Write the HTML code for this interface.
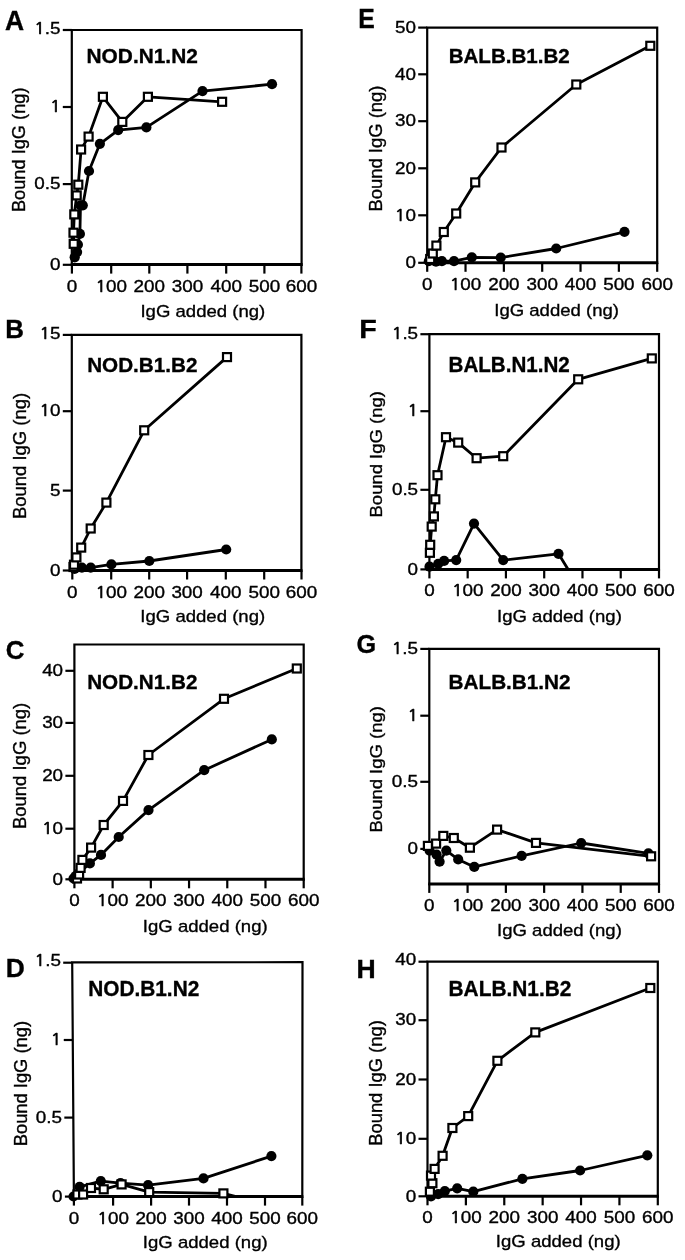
<!DOCTYPE html>
<html><head><meta charset="utf-8"><title>IgG binding</title>
<style>
html,body{margin:0;padding:0;background:#fff;}
svg{display:block;}
text{font-family:"Liberation Sans",Arial,sans-serif;fill:#000;stroke:#000;}
</style></head>
<body>
<svg width="685" height="1260" viewBox="0 0 685 1260">
<rect width="685" height="1260" fill="#fff"/>
<path d="M71.8,264.6 L71.8,30.0 L301.6,30.0 L301.6,264.6" fill="none" stroke="#000" stroke-width="2.2" stroke-linejoin="miter" stroke-linecap="square"/>
<line x1="70.8" y1="264.6" x2="302.6" y2="264.6" stroke="#000" stroke-width="3.0"/>
<line x1="71.90" y1="264.60" x2="71.90" y2="273.60" stroke="#000" stroke-width="2.2"/>
<text font-size="16.4" text-anchor="middle" stroke-width="0.35" transform="translate(71.90,291.60) scale(1.15,1)">0</text>
<line x1="111.20" y1="264.60" x2="111.20" y2="273.60" stroke="#000" stroke-width="2.2"/>
<text font-size="16.4" text-anchor="middle" stroke-width="0.35" transform="translate(111.20,291.60) scale(1.15,1)"><tspan style="font-family:NanumGothic,'Liberation Sans',sans-serif" font-size="15.19" stroke-width="0.7">1</tspan>00</text>
<line x1="149.30" y1="264.60" x2="149.30" y2="273.60" stroke="#000" stroke-width="2.2"/>
<text font-size="16.4" text-anchor="middle" stroke-width="0.35" transform="translate(149.30,291.60) scale(1.15,1)">200</text>
<line x1="187.40" y1="264.60" x2="187.40" y2="273.60" stroke="#000" stroke-width="2.2"/>
<text font-size="16.4" text-anchor="middle" stroke-width="0.35" transform="translate(187.40,291.60) scale(1.15,1)">300</text>
<line x1="226.20" y1="264.60" x2="226.20" y2="273.60" stroke="#000" stroke-width="2.2"/>
<text font-size="16.4" text-anchor="middle" stroke-width="0.35" transform="translate(226.20,291.60) scale(1.15,1)">400</text>
<line x1="264.40" y1="264.60" x2="264.40" y2="273.60" stroke="#000" stroke-width="2.2"/>
<text font-size="16.4" text-anchor="middle" stroke-width="0.35" transform="translate(264.40,291.60) scale(1.15,1)">500</text>
<line x1="301.40" y1="264.60" x2="301.40" y2="273.60" stroke="#000" stroke-width="2.2"/>
<text font-size="16.4" text-anchor="middle" stroke-width="0.35" transform="translate(301.40,291.60) scale(1.15,1)">600</text>
<line x1="62.80" y1="264.80" x2="71.80" y2="264.80" stroke="#000" stroke-width="2.2"/>
<text font-size="16.4" text-anchor="end" stroke-width="0.35" transform="translate(60.50,270.07) scale(1.15,1)">0</text>
<line x1="62.80" y1="184.10" x2="71.80" y2="184.10" stroke="#000" stroke-width="2.2"/>
<text font-size="16.4" text-anchor="end" stroke-width="0.35" transform="translate(60.50,189.37) scale(1.15,1)">0.5</text>
<line x1="62.80" y1="107.00" x2="71.80" y2="107.00" stroke="#000" stroke-width="2.2"/>
<text font-size="16.4" text-anchor="end" stroke-width="0.35" transform="translate(60.50,112.27) scale(1.15,1)"><tspan style="font-family:NanumGothic,'Liberation Sans',sans-serif" font-size="15.19" stroke-width="0.7">1</tspan></text>
<line x1="62.80" y1="30.00" x2="71.80" y2="30.00" stroke="#000" stroke-width="2.2"/>
<text font-size="16.4" text-anchor="end" stroke-width="0.35" transform="translate(60.50,34.07) scale(1.15,1)"><tspan style="font-family:NanumGothic,'Liberation Sans',sans-serif" font-size="15.19" stroke-width="0.7">1</tspan>.5</text>
<text font-size="100" font-weight="normal" stroke-width="1.946" transform="matrix(0.1856,0.0000,0.0000,0.1743,140.4300,316.8390)">IgG added (ng)</text>
<text font-size="100" font-weight="normal" stroke-width="1.901" transform="matrix(0.0000,-0.1822,0.1861,0.0000,24.6920,212.0578)">Bound IgG (ng)</text>
<text font-size="100" font-weight="bold" stroke-width="1.690" transform="matrix(0.2086,0.0000,0.0000,0.2056,86.5441,63.4944)">NOD.N1.N2</text>
<text font-size="100" font-weight="bold" stroke-width="1.308" transform="matrix(0.2642,0.0000,0.0000,0.2710,4.9396,30.1000)">A</text>
<clipPath id="clipA"><rect x="71.8" y="10.0" width="249.8" height="254.60000000000002"/></clipPath>
<polyline points="74.7,257.3 77.1,252.1 77.9,244.6 79.9,233.9 80.5,205.3 82.8,205.3 89.0,171.0 99.9,143.8 118.2,130.1 146.4,127.4 202.5,91.1 272,84.2" fill="none" stroke="#000" stroke-width="2.8" stroke-linejoin="round" clip-path="url(#clipA)"/>
<circle cx="74.7" cy="257.3" r="5.1" fill="#000"/>
<circle cx="77.1" cy="252.1" r="5.1" fill="#000"/>
<circle cx="77.9" cy="244.6" r="5.1" fill="#000"/>
<circle cx="79.9" cy="233.9" r="5.1" fill="#000"/>
<circle cx="80.5" cy="205.3" r="5.1" fill="#000"/>
<circle cx="82.8" cy="205.3" r="5.1" fill="#000"/>
<circle cx="89.0" cy="171.0" r="5.1" fill="#000"/>
<circle cx="99.9" cy="143.8" r="5.1" fill="#000"/>
<circle cx="118.2" cy="130.1" r="5.1" fill="#000"/>
<circle cx="146.4" cy="127.4" r="5.1" fill="#000"/>
<circle cx="202.5" cy="91.1" r="5.1" fill="#000"/>
<circle cx="272" cy="84.2" r="5.1" fill="#000"/>
<polyline points="73.7,243.8 73.5,232.7 74.3,214.4 76.7,195.4 78.3,184.7 81.1,149.5 88.6,136.6 102.9,96.8 122.3,121.9 147.9,96.8 222.1,101.8" fill="none" stroke="#000" stroke-width="2.8" stroke-linejoin="round" clip-path="url(#clipA)"/>
<rect x="69.70" y="239.80" width="8.0" height="8.0" fill="#fff" stroke="#000" stroke-width="2.2"/>
<rect x="69.50" y="228.70" width="8.0" height="8.0" fill="#fff" stroke="#000" stroke-width="2.2"/>
<rect x="70.30" y="210.40" width="8.0" height="8.0" fill="#fff" stroke="#000" stroke-width="2.2"/>
<rect x="72.70" y="191.40" width="8.0" height="8.0" fill="#fff" stroke="#000" stroke-width="2.2"/>
<rect x="74.30" y="180.70" width="8.0" height="8.0" fill="#fff" stroke="#000" stroke-width="2.2"/>
<rect x="77.10" y="145.50" width="8.0" height="8.0" fill="#fff" stroke="#000" stroke-width="2.2"/>
<rect x="84.60" y="132.60" width="8.0" height="8.0" fill="#fff" stroke="#000" stroke-width="2.2"/>
<rect x="98.90" y="92.80" width="8.0" height="8.0" fill="#fff" stroke="#000" stroke-width="2.2"/>
<rect x="118.30" y="117.90" width="8.0" height="8.0" fill="#fff" stroke="#000" stroke-width="2.2"/>
<rect x="143.90" y="92.80" width="8.0" height="8.0" fill="#fff" stroke="#000" stroke-width="2.2"/>
<rect x="218.10" y="97.80" width="8.0" height="8.0" fill="#fff" stroke="#000" stroke-width="2.2"/>
<path d="M71.8,570.5 L71.8,334.9 L301.4,334.9 L301.4,570.5" fill="none" stroke="#000" stroke-width="2.2" stroke-linejoin="miter" stroke-linecap="square"/>
<line x1="70.8" y1="570.5" x2="302.4" y2="570.5" stroke="#000" stroke-width="3.0"/>
<line x1="72.30" y1="570.50" x2="72.30" y2="579.50" stroke="#000" stroke-width="2.2"/>
<text font-size="16.4" text-anchor="middle" stroke-width="0.35" transform="translate(72.30,597.50) scale(1.15,1)">0</text>
<line x1="111.20" y1="570.50" x2="111.20" y2="579.50" stroke="#000" stroke-width="2.2"/>
<text font-size="16.4" text-anchor="middle" stroke-width="0.35" transform="translate(111.20,597.50) scale(1.15,1)"><tspan style="font-family:NanumGothic,'Liberation Sans',sans-serif" font-size="15.19" stroke-width="0.7">1</tspan>00</text>
<line x1="149.20" y1="570.50" x2="149.20" y2="579.50" stroke="#000" stroke-width="2.2"/>
<text font-size="16.4" text-anchor="middle" stroke-width="0.35" transform="translate(149.20,597.50) scale(1.15,1)">200</text>
<line x1="187.10" y1="570.50" x2="187.10" y2="579.50" stroke="#000" stroke-width="2.2"/>
<text font-size="16.4" text-anchor="middle" stroke-width="0.35" transform="translate(187.10,597.50) scale(1.15,1)">300</text>
<line x1="225.80" y1="570.50" x2="225.80" y2="579.50" stroke="#000" stroke-width="2.2"/>
<text font-size="16.4" text-anchor="middle" stroke-width="0.35" transform="translate(225.80,597.50) scale(1.15,1)">400</text>
<line x1="264.20" y1="570.50" x2="264.20" y2="579.50" stroke="#000" stroke-width="2.2"/>
<text font-size="16.4" text-anchor="middle" stroke-width="0.35" transform="translate(264.20,597.50) scale(1.15,1)">500</text>
<line x1="301.50" y1="570.50" x2="301.50" y2="579.50" stroke="#000" stroke-width="2.2"/>
<text font-size="16.4" text-anchor="middle" stroke-width="0.35" transform="translate(301.50,597.50) scale(1.15,1)">600</text>
<line x1="62.80" y1="570.50" x2="71.80" y2="570.50" stroke="#000" stroke-width="2.2"/>
<text font-size="16.4" text-anchor="end" stroke-width="0.35" transform="translate(60.50,575.77) scale(1.15,1)">0</text>
<line x1="62.80" y1="490.60" x2="71.80" y2="490.60" stroke="#000" stroke-width="2.2"/>
<text font-size="16.4" text-anchor="end" stroke-width="0.35" transform="translate(60.50,495.87) scale(1.15,1)">5</text>
<line x1="62.80" y1="411.20" x2="71.80" y2="411.20" stroke="#000" stroke-width="2.2"/>
<text font-size="16.4" text-anchor="end" stroke-width="0.35" transform="translate(60.50,416.47) scale(1.15,1)"><tspan style="font-family:NanumGothic,'Liberation Sans',sans-serif" font-size="15.19" stroke-width="0.7">1</tspan>0</text>
<line x1="62.80" y1="334.90" x2="71.80" y2="334.90" stroke="#000" stroke-width="2.2"/>
<text font-size="16.4" text-anchor="end" stroke-width="0.35" transform="translate(60.50,338.67) scale(1.15,1)"><tspan style="font-family:NanumGothic,'Liberation Sans',sans-serif" font-size="15.19" stroke-width="0.7">1</tspan>5</text>
<text font-size="100" font-weight="normal" stroke-width="1.946" transform="matrix(0.1856,0.0000,0.0000,0.1743,140.3300,622.1390)">IgG added (ng)</text>
<text font-size="100" font-weight="normal" stroke-width="1.860" transform="matrix(0.0000,-0.1849,0.1914,0.0000,25.7797,519.0793)">Bound IgG (ng)</text>
<text font-size="100" font-weight="bold" stroke-width="1.709" transform="matrix(0.2067,0.0000,0.0000,0.2028,87.1565,372.3972)">NOD.B1.B2</text>
<text font-size="100" font-weight="bold" stroke-width="1.366" transform="matrix(0.2590,0.0000,0.0000,0.2536,5.3164,338.4000)">B</text>
<clipPath id="clipB"><rect x="71.8" y="314.9" width="249.59999999999997" height="255.60000000000002"/></clipPath>
<polyline points="74.6,569 81.9,567.6 90.7,567.6 111.4,564.4 149.3,561 226.2,549.5" fill="none" stroke="#000" stroke-width="2.8" stroke-linejoin="round" clip-path="url(#clipB)"/>
<circle cx="74.6" cy="569" r="5.1" fill="#000"/>
<circle cx="81.9" cy="567.6" r="5.1" fill="#000"/>
<circle cx="90.7" cy="567.6" r="5.1" fill="#000"/>
<circle cx="111.4" cy="564.4" r="5.1" fill="#000"/>
<circle cx="149.3" cy="561" r="5.1" fill="#000"/>
<circle cx="226.2" cy="549.5" r="5.1" fill="#000"/>
<polyline points="73.5,567 74,564.7 76.4,557.4 81.2,547.6 90.7,528.5 106.4,502.6 144.2,430.3 227,357.1" fill="none" stroke="#000" stroke-width="2.8" stroke-linejoin="round" clip-path="url(#clipB)"/>
<rect x="69.50" y="563.00" width="8.0" height="8.0" fill="#fff" stroke="#000" stroke-width="2.2"/>
<rect x="70.00" y="560.70" width="8.0" height="8.0" fill="#fff" stroke="#000" stroke-width="2.2"/>
<rect x="72.40" y="553.40" width="8.0" height="8.0" fill="#fff" stroke="#000" stroke-width="2.2"/>
<rect x="77.20" y="543.60" width="8.0" height="8.0" fill="#fff" stroke="#000" stroke-width="2.2"/>
<rect x="86.70" y="524.50" width="8.0" height="8.0" fill="#fff" stroke="#000" stroke-width="2.2"/>
<rect x="102.40" y="498.60" width="8.0" height="8.0" fill="#fff" stroke="#000" stroke-width="2.2"/>
<rect x="140.20" y="426.30" width="8.0" height="8.0" fill="#fff" stroke="#000" stroke-width="2.2"/>
<rect x="223.00" y="353.10" width="8.0" height="8.0" fill="#fff" stroke="#000" stroke-width="2.2"/>
<path d="M74.4,879.3 L74.4,644.5 L303.7,644.5 L303.7,879.3" fill="none" stroke="#000" stroke-width="2.2" stroke-linejoin="miter" stroke-linecap="square"/>
<line x1="73.4" y1="879.3" x2="304.7" y2="879.3" stroke="#000" stroke-width="3.0"/>
<line x1="74.40" y1="879.30" x2="74.40" y2="888.30" stroke="#000" stroke-width="2.2"/>
<text font-size="16.4" text-anchor="middle" stroke-width="0.35" transform="translate(74.40,906.30) scale(1.15,1)">0</text>
<line x1="112.62" y1="879.30" x2="112.62" y2="888.30" stroke="#000" stroke-width="2.2"/>
<text font-size="16.4" text-anchor="middle" stroke-width="0.35" transform="translate(112.62,906.30) scale(1.15,1)"><tspan style="font-family:NanumGothic,'Liberation Sans',sans-serif" font-size="15.19" stroke-width="0.7">1</tspan>00</text>
<line x1="150.83" y1="879.30" x2="150.83" y2="888.30" stroke="#000" stroke-width="2.2"/>
<text font-size="16.4" text-anchor="middle" stroke-width="0.35" transform="translate(150.83,906.30) scale(1.15,1)">200</text>
<line x1="189.05" y1="879.30" x2="189.05" y2="888.30" stroke="#000" stroke-width="2.2"/>
<text font-size="16.4" text-anchor="middle" stroke-width="0.35" transform="translate(189.05,906.30) scale(1.15,1)">300</text>
<line x1="227.27" y1="879.30" x2="227.27" y2="888.30" stroke="#000" stroke-width="2.2"/>
<text font-size="16.4" text-anchor="middle" stroke-width="0.35" transform="translate(227.27,906.30) scale(1.15,1)">400</text>
<line x1="265.48" y1="879.30" x2="265.48" y2="888.30" stroke="#000" stroke-width="2.2"/>
<text font-size="16.4" text-anchor="middle" stroke-width="0.35" transform="translate(265.48,906.30) scale(1.15,1)">500</text>
<line x1="303.70" y1="879.30" x2="303.70" y2="888.30" stroke="#000" stroke-width="2.2"/>
<text font-size="16.4" text-anchor="middle" stroke-width="0.35" transform="translate(303.70,906.30) scale(1.15,1)">600</text>
<line x1="65.40" y1="879.30" x2="74.40" y2="879.30" stroke="#000" stroke-width="2.2"/>
<text font-size="16.4" text-anchor="end" stroke-width="0.35" transform="translate(63.10,884.57) scale(1.15,1)">0</text>
<line x1="65.40" y1="828.70" x2="74.40" y2="828.70" stroke="#000" stroke-width="2.2"/>
<text font-size="16.4" text-anchor="end" stroke-width="0.35" transform="translate(63.10,833.97) scale(1.15,1)"><tspan style="font-family:NanumGothic,'Liberation Sans',sans-serif" font-size="15.19" stroke-width="0.7">1</tspan>0</text>
<line x1="65.40" y1="775.80" x2="74.40" y2="775.80" stroke="#000" stroke-width="2.2"/>
<text font-size="16.4" text-anchor="end" stroke-width="0.35" transform="translate(63.10,781.07) scale(1.15,1)">20</text>
<line x1="65.40" y1="722.90" x2="74.40" y2="722.90" stroke="#000" stroke-width="2.2"/>
<text font-size="16.4" text-anchor="end" stroke-width="0.35" transform="translate(63.10,728.17) scale(1.15,1)">30</text>
<line x1="65.40" y1="670.80" x2="74.40" y2="670.80" stroke="#000" stroke-width="2.2"/>
<text font-size="16.4" text-anchor="end" stroke-width="0.35" transform="translate(63.10,676.07) scale(1.15,1)">40</text>
<text font-size="100" font-weight="normal" stroke-width="1.946" transform="matrix(0.1856,0.0000,0.0000,0.1743,142.8300,931.6390)">IgG added (ng)</text>
<text font-size="100" font-weight="normal" stroke-width="1.920" transform="matrix(0.0000,-0.1849,0.1797,0.0000,26.0267,829.0793)">Bound IgG (ng)</text>
<text font-size="100" font-weight="bold" stroke-width="1.709" transform="matrix(0.2067,0.0000,0.0000,0.2028,87.1565,689.3972)">NOD.N1.B2</text>
<text font-size="100" font-weight="bold" stroke-width="1.354" transform="matrix(0.2580,0.0000,0.0000,0.2592,5.6679,659.1408)">C</text>
<clipPath id="clipC"><rect x="74.4" y="624.5" width="249.29999999999998" height="254.79999999999995"/></clipPath>
<polyline points="73.5,878.5 75.5,876 89.9,863.4 101,854.9 118.7,837 148.5,810.1 204.2,770.2 271.8,739.4" fill="none" stroke="#000" stroke-width="2.8" stroke-linejoin="round" clip-path="url(#clipC)"/>
<circle cx="73.5" cy="878.5" r="5.1" fill="#000"/>
<circle cx="75.5" cy="876" r="5.1" fill="#000"/>
<circle cx="89.9" cy="863.4" r="5.1" fill="#000"/>
<circle cx="101" cy="854.9" r="5.1" fill="#000"/>
<circle cx="118.7" cy="837" r="5.1" fill="#000"/>
<circle cx="148.5" cy="810.1" r="5.1" fill="#000"/>
<circle cx="204.2" cy="770.2" r="5.1" fill="#000"/>
<circle cx="271.8" cy="739.4" r="5.1" fill="#000"/>
<polyline points="77,878.5 79.1,874.5 80.6,867.9 82.4,859.9 91.1,847.6 103.7,825 123,800.9 148.4,755 224,698.8 296.8,668.5" fill="none" stroke="#000" stroke-width="2.8" stroke-linejoin="round" clip-path="url(#clipC)"/>
<rect x="73.00" y="874.50" width="8.0" height="8.0" fill="#fff" stroke="#000" stroke-width="2.2"/>
<rect x="75.10" y="870.50" width="8.0" height="8.0" fill="#fff" stroke="#000" stroke-width="2.2"/>
<rect x="76.60" y="863.90" width="8.0" height="8.0" fill="#fff" stroke="#000" stroke-width="2.2"/>
<rect x="78.40" y="855.90" width="8.0" height="8.0" fill="#fff" stroke="#000" stroke-width="2.2"/>
<rect x="87.10" y="843.60" width="8.0" height="8.0" fill="#fff" stroke="#000" stroke-width="2.2"/>
<rect x="99.70" y="821.00" width="8.0" height="8.0" fill="#fff" stroke="#000" stroke-width="2.2"/>
<rect x="119.00" y="796.90" width="8.0" height="8.0" fill="#fff" stroke="#000" stroke-width="2.2"/>
<rect x="144.40" y="751.00" width="8.0" height="8.0" fill="#fff" stroke="#000" stroke-width="2.2"/>
<rect x="220.00" y="694.80" width="8.0" height="8.0" fill="#fff" stroke="#000" stroke-width="2.2"/>
<rect x="292.80" y="664.50" width="8.0" height="8.0" fill="#fff" stroke="#000" stroke-width="2.2"/>
<path d="M73.9,1196.6 L72.2,962.4 L302.5,962.2 L302.3,1196.6" fill="none" stroke="#000" stroke-width="2.2" stroke-linejoin="miter" stroke-linecap="square"/>
<line x1="72.9" y1="1196.6" x2="303.3" y2="1196.6" stroke="#000" stroke-width="3.0"/>
<line x1="73.90" y1="1196.60" x2="73.90" y2="1205.60" stroke="#000" stroke-width="2.2"/>
<text font-size="16.4" text-anchor="middle" stroke-width="0.35" transform="translate(73.90,1223.60) scale(1.15,1)">0</text>
<line x1="113.10" y1="1196.60" x2="113.10" y2="1205.60" stroke="#000" stroke-width="2.2"/>
<text font-size="16.4" text-anchor="middle" stroke-width="0.35" transform="translate(113.10,1223.60) scale(1.15,1)"><tspan style="font-family:NanumGothic,'Liberation Sans',sans-serif" font-size="15.19" stroke-width="0.7">1</tspan>00</text>
<line x1="151.10" y1="1196.60" x2="151.10" y2="1205.60" stroke="#000" stroke-width="2.2"/>
<text font-size="16.4" text-anchor="middle" stroke-width="0.35" transform="translate(151.10,1223.60) scale(1.15,1)">200</text>
<line x1="189.00" y1="1196.60" x2="189.00" y2="1205.60" stroke="#000" stroke-width="2.2"/>
<text font-size="16.4" text-anchor="middle" stroke-width="0.35" transform="translate(189.00,1223.60) scale(1.15,1)">300</text>
<line x1="227.00" y1="1196.60" x2="227.00" y2="1205.60" stroke="#000" stroke-width="2.2"/>
<text font-size="16.4" text-anchor="middle" stroke-width="0.35" transform="translate(227.00,1223.60) scale(1.15,1)">400</text>
<line x1="265.00" y1="1196.60" x2="265.00" y2="1205.60" stroke="#000" stroke-width="2.2"/>
<text font-size="16.4" text-anchor="middle" stroke-width="0.35" transform="translate(265.00,1223.60) scale(1.15,1)">500</text>
<line x1="302.30" y1="1196.60" x2="302.30" y2="1205.60" stroke="#000" stroke-width="2.2"/>
<text font-size="16.4" text-anchor="middle" stroke-width="0.35" transform="translate(302.30,1223.60) scale(1.15,1)">600</text>
<line x1="64.90" y1="1196.60" x2="73.90" y2="1196.60" stroke="#000" stroke-width="2.2"/>
<text font-size="16.4" text-anchor="end" stroke-width="0.35" transform="translate(62.60,1201.87) scale(1.15,1)">0</text>
<line x1="64.33" y1="1117.60" x2="73.33" y2="1117.60" stroke="#000" stroke-width="2.2"/>
<text font-size="16.4" text-anchor="end" stroke-width="0.35" transform="translate(62.03,1122.87) scale(1.15,1)">0.5</text>
<line x1="63.76" y1="1040.00" x2="72.76" y2="1040.00" stroke="#000" stroke-width="2.2"/>
<text font-size="16.4" text-anchor="end" stroke-width="0.35" transform="translate(61.46,1045.27) scale(1.15,1)"><tspan style="font-family:NanumGothic,'Liberation Sans',sans-serif" font-size="15.19" stroke-width="0.7">1</tspan></text>
<line x1="63.20" y1="962.70" x2="72.20" y2="962.70" stroke="#000" stroke-width="2.2"/>
<text font-size="16.4" text-anchor="end" stroke-width="0.35" transform="translate(60.90,965.97) scale(1.15,1)"><tspan style="font-family:NanumGothic,'Liberation Sans',sans-serif" font-size="15.19" stroke-width="0.7">1</tspan>.5</text>
<text font-size="100" font-weight="normal" stroke-width="1.946" transform="matrix(0.1856,0.0000,0.0000,0.1743,142.8300,1248.1390)">IgG added (ng)</text>
<text font-size="100" font-weight="normal" stroke-width="1.895" transform="matrix(0.0000,-0.1833,0.1861,0.0000,26.5920,1146.2662)">Bound IgG (ng)</text>
<text font-size="100" font-weight="bold" stroke-width="1.663" transform="matrix(0.2082,0.0000,0.0000,0.2127,88.2466,996.3873)">NOD.B1.N2</text>
<text font-size="100" font-weight="bold" stroke-width="1.335" transform="matrix(0.2634,0.0000,0.0000,0.2609,5.6878,976.9000)">D</text>
<clipPath id="clipD"><rect x="72.2" y="942.7" width="250.60000000000002" height="253.89999999999986"/></clipPath>
<polyline points="73.5,1196.5 79.6,1186.8 100.8,1181.2 120.5,1183.2 148.1,1185.2 203.5,1178.4 271.4,1156.1" fill="none" stroke="#000" stroke-width="2.8" stroke-linejoin="round" clip-path="url(#clipD)"/>
<circle cx="73.5" cy="1196.5" r="5.1" fill="#000"/>
<circle cx="79.6" cy="1186.8" r="5.1" fill="#000"/>
<circle cx="100.8" cy="1181.2" r="5.1" fill="#000"/>
<circle cx="120.5" cy="1183.2" r="5.1" fill="#000"/>
<circle cx="148.1" cy="1185.2" r="5.1" fill="#000"/>
<circle cx="203.5" cy="1178.4" r="5.1" fill="#000"/>
<circle cx="271.4" cy="1156.1" r="5.1" fill="#000"/>
<polyline points="77.4,1194.5 83.1,1194.5 91,1188 103.7,1189.3 121.6,1184.4 149.2,1192.1 223.4,1193.4 240,1197.5" fill="none" stroke="#000" stroke-width="2.8" stroke-linejoin="round" clip-path="url(#clipD)"/>
<rect x="73.40" y="1190.50" width="8.0" height="8.0" fill="#fff" stroke="#000" stroke-width="2.2"/>
<rect x="79.10" y="1190.50" width="8.0" height="8.0" fill="#fff" stroke="#000" stroke-width="2.2"/>
<rect x="87.00" y="1184.00" width="8.0" height="8.0" fill="#fff" stroke="#000" stroke-width="2.2"/>
<rect x="99.70" y="1185.30" width="8.0" height="8.0" fill="#fff" stroke="#000" stroke-width="2.2"/>
<rect x="117.60" y="1180.40" width="8.0" height="8.0" fill="#fff" stroke="#000" stroke-width="2.2"/>
<rect x="145.20" y="1188.10" width="8.0" height="8.0" fill="#fff" stroke="#000" stroke-width="2.2"/>
<rect x="219.40" y="1189.40" width="8.0" height="8.0" fill="#fff" stroke="#000" stroke-width="2.2"/>
<path d="M427.2,262.8 L427.2,27.6 L657.2,27.6 L657.2,262.8" fill="none" stroke="#000" stroke-width="2.2" stroke-linejoin="miter" stroke-linecap="square"/>
<line x1="426.2" y1="262.8" x2="658.2" y2="262.8" stroke="#000" stroke-width="3.0"/>
<line x1="427.20" y1="262.80" x2="427.20" y2="271.80" stroke="#000" stroke-width="2.2"/>
<text font-size="16.4" text-anchor="middle" stroke-width="0.35" transform="translate(427.20,289.80) scale(1.15,1)">0</text>
<line x1="465.53" y1="262.80" x2="465.53" y2="271.80" stroke="#000" stroke-width="2.2"/>
<text font-size="16.4" text-anchor="middle" stroke-width="0.35" transform="translate(465.53,289.80) scale(1.15,1)"><tspan style="font-family:NanumGothic,'Liberation Sans',sans-serif" font-size="15.19" stroke-width="0.7">1</tspan>00</text>
<line x1="503.87" y1="262.80" x2="503.87" y2="271.80" stroke="#000" stroke-width="2.2"/>
<text font-size="16.4" text-anchor="middle" stroke-width="0.35" transform="translate(503.87,289.80) scale(1.15,1)">200</text>
<line x1="542.20" y1="262.80" x2="542.20" y2="271.80" stroke="#000" stroke-width="2.2"/>
<text font-size="16.4" text-anchor="middle" stroke-width="0.35" transform="translate(542.20,289.80) scale(1.15,1)">300</text>
<line x1="580.53" y1="262.80" x2="580.53" y2="271.80" stroke="#000" stroke-width="2.2"/>
<text font-size="16.4" text-anchor="middle" stroke-width="0.35" transform="translate(580.53,289.80) scale(1.15,1)">400</text>
<line x1="618.87" y1="262.80" x2="618.87" y2="271.80" stroke="#000" stroke-width="2.2"/>
<text font-size="16.4" text-anchor="middle" stroke-width="0.35" transform="translate(618.87,289.80) scale(1.15,1)">500</text>
<line x1="657.20" y1="262.80" x2="657.20" y2="271.80" stroke="#000" stroke-width="2.2"/>
<text font-size="16.4" text-anchor="middle" stroke-width="0.35" transform="translate(657.20,289.80) scale(1.15,1)">600</text>
<line x1="418.20" y1="262.80" x2="427.20" y2="262.80" stroke="#000" stroke-width="2.2"/>
<text font-size="16.4" text-anchor="end" stroke-width="0.35" transform="translate(415.90,268.07) scale(1.15,1)">0</text>
<line x1="418.20" y1="215.30" x2="427.20" y2="215.30" stroke="#000" stroke-width="2.2"/>
<text font-size="16.4" text-anchor="end" stroke-width="0.35" transform="translate(415.90,220.57) scale(1.15,1)"><tspan style="font-family:NanumGothic,'Liberation Sans',sans-serif" font-size="15.19" stroke-width="0.7">1</tspan>0</text>
<line x1="418.20" y1="168.30" x2="427.20" y2="168.30" stroke="#000" stroke-width="2.2"/>
<text font-size="16.4" text-anchor="end" stroke-width="0.35" transform="translate(415.90,173.57) scale(1.15,1)">20</text>
<line x1="418.20" y1="121.20" x2="427.20" y2="121.20" stroke="#000" stroke-width="2.2"/>
<text font-size="16.4" text-anchor="end" stroke-width="0.35" transform="translate(415.90,126.47) scale(1.15,1)">30</text>
<line x1="418.20" y1="74.30" x2="427.20" y2="74.30" stroke="#000" stroke-width="2.2"/>
<text font-size="16.4" text-anchor="end" stroke-width="0.35" transform="translate(415.90,79.57) scale(1.15,1)">40</text>
<line x1="418.20" y1="27.60" x2="427.20" y2="27.60" stroke="#000" stroke-width="2.2"/>
<text font-size="16.4" text-anchor="end" stroke-width="0.35" transform="translate(415.90,32.87) scale(1.15,1)">50</text>
<text font-size="100" font-weight="normal" stroke-width="1.946" transform="matrix(0.1856,0.0000,0.0000,0.1743,494.2300,315.5390)">IgG added (ng)</text>
<text font-size="100" font-weight="normal" stroke-width="1.930" transform="matrix(0.0000,-0.1842,0.1786,0.0000,381.7492,211.4733)">Bound IgG (ng)</text>
<text font-size="100" font-weight="bold" stroke-width="1.726" transform="matrix(0.2057,0.0000,0.0000,0.2000,448.6629,62.8000)">BALB.B1.B2</text>
<text font-size="100" font-weight="bold" stroke-width="1.358" transform="matrix(0.2478,0.0000,0.0000,0.2681,358.2894,27.8000)">E</text>
<clipPath id="clipE"><rect x="427.2" y="7.600000000000001" width="250.00000000000006" height="255.20000000000002"/></clipPath>
<polyline points="428.8,261.2 436,261.7 441.9,261.2 454,261.2 471.8,257.3 500.7,257.6 556.2,248.5 624.5,231.8" fill="none" stroke="#000" stroke-width="2.8" stroke-linejoin="round" clip-path="url(#clipE)"/>
<circle cx="428.8" cy="261.2" r="5.1" fill="#000"/>
<circle cx="436" cy="261.7" r="5.1" fill="#000"/>
<circle cx="441.9" cy="261.2" r="5.1" fill="#000"/>
<circle cx="454" cy="261.2" r="5.1" fill="#000"/>
<circle cx="471.8" cy="257.3" r="5.1" fill="#000"/>
<circle cx="500.7" cy="257.6" r="5.1" fill="#000"/>
<circle cx="556.2" cy="248.5" r="5.1" fill="#000"/>
<circle cx="624.5" cy="231.8" r="5.1" fill="#000"/>
<polyline points="430.2,259 432.8,253.5 436.4,245.6 443.8,232 456.2,213.5 475.2,182.4 501.5,147.5 576.3,84.5 650.3,45.8" fill="none" stroke="#000" stroke-width="2.8" stroke-linejoin="round" clip-path="url(#clipE)"/>
<rect x="426.20" y="255.00" width="8.0" height="8.0" fill="#fff" stroke="#000" stroke-width="2.2"/>
<rect x="428.80" y="249.50" width="8.0" height="8.0" fill="#fff" stroke="#000" stroke-width="2.2"/>
<rect x="432.40" y="241.60" width="8.0" height="8.0" fill="#fff" stroke="#000" stroke-width="2.2"/>
<rect x="439.80" y="228.00" width="8.0" height="8.0" fill="#fff" stroke="#000" stroke-width="2.2"/>
<rect x="452.20" y="209.50" width="8.0" height="8.0" fill="#fff" stroke="#000" stroke-width="2.2"/>
<rect x="471.20" y="178.40" width="8.0" height="8.0" fill="#fff" stroke="#000" stroke-width="2.2"/>
<rect x="497.50" y="143.50" width="8.0" height="8.0" fill="#fff" stroke="#000" stroke-width="2.2"/>
<rect x="572.30" y="80.50" width="8.0" height="8.0" fill="#fff" stroke="#000" stroke-width="2.2"/>
<rect x="646.30" y="41.80" width="8.0" height="8.0" fill="#fff" stroke="#000" stroke-width="2.2"/>
<path d="M429.4,569.4 L429.4,334.2 L659.0,334.2 L659.0,569.4" fill="none" stroke="#000" stroke-width="2.2" stroke-linejoin="miter" stroke-linecap="square"/>
<line x1="428.4" y1="569.4" x2="660.0" y2="569.4" stroke="#000" stroke-width="3.0"/>
<line x1="429.40" y1="569.40" x2="429.40" y2="578.40" stroke="#000" stroke-width="2.2"/>
<text font-size="16.4" text-anchor="middle" stroke-width="0.35" transform="translate(429.40,596.40) scale(1.15,1)">0</text>
<line x1="467.67" y1="569.40" x2="467.67" y2="578.40" stroke="#000" stroke-width="2.2"/>
<text font-size="16.4" text-anchor="middle" stroke-width="0.35" transform="translate(467.67,596.40) scale(1.15,1)"><tspan style="font-family:NanumGothic,'Liberation Sans',sans-serif" font-size="15.19" stroke-width="0.7">1</tspan>00</text>
<line x1="505.93" y1="569.40" x2="505.93" y2="578.40" stroke="#000" stroke-width="2.2"/>
<text font-size="16.4" text-anchor="middle" stroke-width="0.35" transform="translate(505.93,596.40) scale(1.15,1)">200</text>
<line x1="544.20" y1="569.40" x2="544.20" y2="578.40" stroke="#000" stroke-width="2.2"/>
<text font-size="16.4" text-anchor="middle" stroke-width="0.35" transform="translate(544.20,596.40) scale(1.15,1)">300</text>
<line x1="582.47" y1="569.40" x2="582.47" y2="578.40" stroke="#000" stroke-width="2.2"/>
<text font-size="16.4" text-anchor="middle" stroke-width="0.35" transform="translate(582.47,596.40) scale(1.15,1)">400</text>
<line x1="620.73" y1="569.40" x2="620.73" y2="578.40" stroke="#000" stroke-width="2.2"/>
<text font-size="16.4" text-anchor="middle" stroke-width="0.35" transform="translate(620.73,596.40) scale(1.15,1)">500</text>
<line x1="659.00" y1="569.40" x2="659.00" y2="578.40" stroke="#000" stroke-width="2.2"/>
<text font-size="16.4" text-anchor="middle" stroke-width="0.35" transform="translate(659.00,596.40) scale(1.15,1)">600</text>
<line x1="420.40" y1="569.40" x2="429.40" y2="569.40" stroke="#000" stroke-width="2.2"/>
<text font-size="16.4" text-anchor="end" stroke-width="0.35" transform="translate(418.10,574.67) scale(1.15,1)">0</text>
<line x1="420.40" y1="489.80" x2="429.40" y2="489.80" stroke="#000" stroke-width="2.2"/>
<text font-size="16.4" text-anchor="end" stroke-width="0.35" transform="translate(418.10,495.07) scale(1.15,1)">0.5</text>
<line x1="420.40" y1="411.20" x2="429.40" y2="411.20" stroke="#000" stroke-width="2.2"/>
<text font-size="16.4" text-anchor="end" stroke-width="0.35" transform="translate(418.10,416.47) scale(1.15,1)"><tspan style="font-family:NanumGothic,'Liberation Sans',sans-serif" font-size="15.19" stroke-width="0.7">1</tspan></text>
<line x1="420.40" y1="334.20" x2="429.40" y2="334.20" stroke="#000" stroke-width="2.2"/>
<text font-size="16.4" text-anchor="end" stroke-width="0.35" transform="translate(418.10,339.47) scale(1.15,1)"><tspan style="font-family:NanumGothic,'Liberation Sans',sans-serif" font-size="15.19" stroke-width="0.7">1</tspan>.5</text>
<text font-size="100" font-weight="normal" stroke-width="1.946" transform="matrix(0.1856,0.0000,0.0000,0.1743,497.0300,621.9390)">IgG added (ng)</text>
<text font-size="100" font-weight="normal" stroke-width="1.955" transform="matrix(0.0000,-0.1851,0.1733,0.0000,382.3615,517.4805)">Bound IgG (ng)</text>
<text font-size="100" font-weight="bold" stroke-width="1.672" transform="matrix(0.2059,0.0000,0.0000,0.2129,448.5618,371.9000)">BALB.N1.N2</text>
<text font-size="100" font-weight="bold" stroke-width="1.267" transform="matrix(0.2863,0.0000,0.0000,0.2667,359.2392,338.0000)">F</text>
<clipPath id="clipF"><rect x="429.4" y="314.2" width="249.60000000000002" height="255.2"/></clipPath>
<polyline points="429.5,566.7 438.2,563.8 444.1,560.9 456.2,560.1 474,523.6 503.2,560.1 558.5,553.8 568,569.3" fill="none" stroke="#000" stroke-width="2.8" stroke-linejoin="round" clip-path="url(#clipF)"/>
<circle cx="429.5" cy="566.7" r="5.1" fill="#000"/>
<circle cx="438.2" cy="563.8" r="5.1" fill="#000"/>
<circle cx="444.1" cy="560.9" r="5.1" fill="#000"/>
<circle cx="456.2" cy="560.1" r="5.1" fill="#000"/>
<circle cx="474" cy="523.6" r="5.1" fill="#000"/>
<circle cx="503.2" cy="560.1" r="5.1" fill="#000"/>
<circle cx="558.5" cy="553.8" r="5.1" fill="#000"/>
<polyline points="429.9,552.8 430.2,544.8 431.7,526.6 433.9,516.4 435.3,499.3 437.5,475.2 446,437.2 458.2,442.6 476.6,458.2 503.2,456.2 578.2,379.3 651.8,358.4" fill="none" stroke="#000" stroke-width="2.8" stroke-linejoin="round" clip-path="url(#clipF)"/>
<rect x="425.90" y="548.80" width="8.0" height="8.0" fill="#fff" stroke="#000" stroke-width="2.2"/>
<rect x="426.20" y="540.80" width="8.0" height="8.0" fill="#fff" stroke="#000" stroke-width="2.2"/>
<rect x="427.70" y="522.60" width="8.0" height="8.0" fill="#fff" stroke="#000" stroke-width="2.2"/>
<rect x="429.90" y="512.40" width="8.0" height="8.0" fill="#fff" stroke="#000" stroke-width="2.2"/>
<rect x="431.30" y="495.30" width="8.0" height="8.0" fill="#fff" stroke="#000" stroke-width="2.2"/>
<rect x="433.50" y="471.20" width="8.0" height="8.0" fill="#fff" stroke="#000" stroke-width="2.2"/>
<rect x="442.00" y="433.20" width="8.0" height="8.0" fill="#fff" stroke="#000" stroke-width="2.2"/>
<rect x="454.20" y="438.60" width="8.0" height="8.0" fill="#fff" stroke="#000" stroke-width="2.2"/>
<rect x="472.60" y="454.20" width="8.0" height="8.0" fill="#fff" stroke="#000" stroke-width="2.2"/>
<rect x="499.20" y="452.20" width="8.0" height="8.0" fill="#fff" stroke="#000" stroke-width="2.2"/>
<rect x="574.20" y="375.30" width="8.0" height="8.0" fill="#fff" stroke="#000" stroke-width="2.2"/>
<rect x="647.80" y="354.40" width="8.0" height="8.0" fill="#fff" stroke="#000" stroke-width="2.2"/>
<path d="M429.3,883.9 L429.3,648.9 L659.0,648.9 L659.0,883.9" fill="none" stroke="#000" stroke-width="2.2" stroke-linejoin="miter" stroke-linecap="square"/>
<line x1="428.3" y1="883.9" x2="660.0" y2="883.9" stroke="#000" stroke-width="3.0"/>
<line x1="429.30" y1="883.90" x2="429.30" y2="892.90" stroke="#000" stroke-width="2.2"/>
<text font-size="16.4" text-anchor="middle" stroke-width="0.35" transform="translate(429.30,910.90) scale(1.15,1)">0</text>
<line x1="467.58" y1="883.90" x2="467.58" y2="892.90" stroke="#000" stroke-width="2.2"/>
<text font-size="16.4" text-anchor="middle" stroke-width="0.35" transform="translate(467.58,910.90) scale(1.15,1)"><tspan style="font-family:NanumGothic,'Liberation Sans',sans-serif" font-size="15.19" stroke-width="0.7">1</tspan>00</text>
<line x1="505.87" y1="883.90" x2="505.87" y2="892.90" stroke="#000" stroke-width="2.2"/>
<text font-size="16.4" text-anchor="middle" stroke-width="0.35" transform="translate(505.87,910.90) scale(1.15,1)">200</text>
<line x1="544.15" y1="883.90" x2="544.15" y2="892.90" stroke="#000" stroke-width="2.2"/>
<text font-size="16.4" text-anchor="middle" stroke-width="0.35" transform="translate(544.15,910.90) scale(1.15,1)">300</text>
<line x1="582.43" y1="883.90" x2="582.43" y2="892.90" stroke="#000" stroke-width="2.2"/>
<text font-size="16.4" text-anchor="middle" stroke-width="0.35" transform="translate(582.43,910.90) scale(1.15,1)">400</text>
<line x1="620.72" y1="883.90" x2="620.72" y2="892.90" stroke="#000" stroke-width="2.2"/>
<text font-size="16.4" text-anchor="middle" stroke-width="0.35" transform="translate(620.72,910.90) scale(1.15,1)">500</text>
<line x1="659.00" y1="883.90" x2="659.00" y2="892.90" stroke="#000" stroke-width="2.2"/>
<text font-size="16.4" text-anchor="middle" stroke-width="0.35" transform="translate(659.00,910.90) scale(1.15,1)">600</text>
<line x1="420.30" y1="848.90" x2="429.30" y2="848.90" stroke="#000" stroke-width="2.2"/>
<text font-size="16.4" text-anchor="end" stroke-width="0.35" transform="translate(418.00,854.17) scale(1.15,1)">0</text>
<line x1="420.30" y1="781.80" x2="429.30" y2="781.80" stroke="#000" stroke-width="2.2"/>
<text font-size="16.4" text-anchor="end" stroke-width="0.35" transform="translate(418.00,787.07) scale(1.15,1)">0.5</text>
<line x1="420.30" y1="715.70" x2="429.30" y2="715.70" stroke="#000" stroke-width="2.2"/>
<text font-size="16.4" text-anchor="end" stroke-width="0.35" transform="translate(418.00,720.97) scale(1.15,1)"><tspan style="font-family:NanumGothic,'Liberation Sans',sans-serif" font-size="15.19" stroke-width="0.7">1</tspan></text>
<line x1="420.30" y1="648.90" x2="429.30" y2="648.90" stroke="#000" stroke-width="2.2"/>
<text font-size="16.4" text-anchor="end" stroke-width="0.35" transform="translate(418.00,654.17) scale(1.15,1)"><tspan style="font-family:NanumGothic,'Liberation Sans',sans-serif" font-size="15.19" stroke-width="0.7">1</tspan>.5</text>
<text font-size="100" font-weight="normal" stroke-width="1.946" transform="matrix(0.1856,0.0000,0.0000,0.1743,497.0300,935.5390)">IgG added (ng)</text>
<text font-size="100" font-weight="normal" stroke-width="1.955" transform="matrix(0.0000,-0.1851,0.1733,0.0000,382.3615,832.4805)">Bound IgG (ng)</text>
<text font-size="100" font-weight="bold" stroke-width="1.695" transform="matrix(0.2073,0.0000,0.0000,0.2057,448.5528,688.9000)">BALB.B1.N2</text>
<text font-size="100" font-weight="bold" stroke-width="1.385" transform="matrix(0.2519,0.0000,0.0000,0.2535,356.5926,652.6465)">G</text>
<clipPath id="clipG"><rect x="429.3" y="628.9" width="249.7" height="255.0"/></clipPath>
<polyline points="429.6,850.6 436.6,854.7 439.6,861.7 446.3,850.6 458.2,859.4 474.3,866.9 521.6,855.9 581.2,843 648.4,853.3" fill="none" stroke="#000" stroke-width="2.8" stroke-linejoin="round" clip-path="url(#clipG)"/>
<circle cx="429.6" cy="850.6" r="5.1" fill="#000"/>
<circle cx="436.6" cy="854.7" r="5.1" fill="#000"/>
<circle cx="439.6" cy="861.7" r="5.1" fill="#000"/>
<circle cx="446.3" cy="850.6" r="5.1" fill="#000"/>
<circle cx="458.2" cy="859.4" r="5.1" fill="#000"/>
<circle cx="474.3" cy="866.9" r="5.1" fill="#000"/>
<circle cx="521.6" cy="855.9" r="5.1" fill="#000"/>
<circle cx="581.2" cy="843" r="5.1" fill="#000"/>
<circle cx="648.4" cy="853.3" r="5.1" fill="#000"/>
<polyline points="427.9,845.9 436.1,843.6 443.3,835.9 453.8,838 469.9,847.7 497.1,829.6 536,842.9 651.1,856.3" fill="none" stroke="#000" stroke-width="2.8" stroke-linejoin="round" clip-path="url(#clipG)"/>
<rect x="423.90" y="841.90" width="8.0" height="8.0" fill="#fff" stroke="#000" stroke-width="2.2"/>
<rect x="432.10" y="839.60" width="8.0" height="8.0" fill="#fff" stroke="#000" stroke-width="2.2"/>
<rect x="439.30" y="831.90" width="8.0" height="8.0" fill="#fff" stroke="#000" stroke-width="2.2"/>
<rect x="449.80" y="834.00" width="8.0" height="8.0" fill="#fff" stroke="#000" stroke-width="2.2"/>
<rect x="465.90" y="843.70" width="8.0" height="8.0" fill="#fff" stroke="#000" stroke-width="2.2"/>
<rect x="493.10" y="825.60" width="8.0" height="8.0" fill="#fff" stroke="#000" stroke-width="2.2"/>
<rect x="532.00" y="838.90" width="8.0" height="8.0" fill="#fff" stroke="#000" stroke-width="2.2"/>
<rect x="647.10" y="852.30" width="8.0" height="8.0" fill="#fff" stroke="#000" stroke-width="2.2"/>
<path d="M427.5,1196.3 L427.5,961.7 L657.8,961.7 L657.8,1196.3" fill="none" stroke="#000" stroke-width="2.2" stroke-linejoin="miter" stroke-linecap="square"/>
<line x1="426.5" y1="1196.3" x2="658.8" y2="1196.3" stroke="#000" stroke-width="3.0"/>
<line x1="427.50" y1="1196.30" x2="427.50" y2="1205.30" stroke="#000" stroke-width="2.2"/>
<text font-size="16.4" text-anchor="middle" stroke-width="0.35" transform="translate(427.50,1223.30) scale(1.15,1)">0</text>
<line x1="465.88" y1="1196.30" x2="465.88" y2="1205.30" stroke="#000" stroke-width="2.2"/>
<text font-size="16.4" text-anchor="middle" stroke-width="0.35" transform="translate(465.88,1223.30) scale(1.15,1)"><tspan style="font-family:NanumGothic,'Liberation Sans',sans-serif" font-size="15.19" stroke-width="0.7">1</tspan>00</text>
<line x1="504.27" y1="1196.30" x2="504.27" y2="1205.30" stroke="#000" stroke-width="2.2"/>
<text font-size="16.4" text-anchor="middle" stroke-width="0.35" transform="translate(504.27,1223.30) scale(1.15,1)">200</text>
<line x1="542.65" y1="1196.30" x2="542.65" y2="1205.30" stroke="#000" stroke-width="2.2"/>
<text font-size="16.4" text-anchor="middle" stroke-width="0.35" transform="translate(542.65,1223.30) scale(1.15,1)">300</text>
<line x1="581.03" y1="1196.30" x2="581.03" y2="1205.30" stroke="#000" stroke-width="2.2"/>
<text font-size="16.4" text-anchor="middle" stroke-width="0.35" transform="translate(581.03,1223.30) scale(1.15,1)">400</text>
<line x1="619.42" y1="1196.30" x2="619.42" y2="1205.30" stroke="#000" stroke-width="2.2"/>
<text font-size="16.4" text-anchor="middle" stroke-width="0.35" transform="translate(619.42,1223.30) scale(1.15,1)">500</text>
<line x1="657.80" y1="1196.30" x2="657.80" y2="1205.30" stroke="#000" stroke-width="2.2"/>
<text font-size="16.4" text-anchor="middle" stroke-width="0.35" transform="translate(657.80,1223.30) scale(1.15,1)">600</text>
<line x1="418.50" y1="1196.30" x2="427.50" y2="1196.30" stroke="#000" stroke-width="2.2"/>
<text font-size="16.4" text-anchor="end" stroke-width="0.35" transform="translate(416.20,1201.57) scale(1.15,1)">0</text>
<line x1="418.50" y1="1138.80" x2="427.50" y2="1138.80" stroke="#000" stroke-width="2.2"/>
<text font-size="16.4" text-anchor="end" stroke-width="0.35" transform="translate(416.20,1144.07) scale(1.15,1)"><tspan style="font-family:NanumGothic,'Liberation Sans',sans-serif" font-size="15.19" stroke-width="0.7">1</tspan>0</text>
<line x1="418.50" y1="1079.50" x2="427.50" y2="1079.50" stroke="#000" stroke-width="2.2"/>
<text font-size="16.4" text-anchor="end" stroke-width="0.35" transform="translate(416.20,1084.77) scale(1.15,1)">20</text>
<line x1="418.50" y1="1020.20" x2="427.50" y2="1020.20" stroke="#000" stroke-width="2.2"/>
<text font-size="16.4" text-anchor="end" stroke-width="0.35" transform="translate(416.20,1025.47) scale(1.15,1)">30</text>
<line x1="418.50" y1="961.70" x2="427.50" y2="961.70" stroke="#000" stroke-width="2.2"/>
<text font-size="16.4" text-anchor="end" stroke-width="0.35" transform="translate(416.20,964.97) scale(1.15,1)">40</text>
<text font-size="100" font-weight="normal" stroke-width="1.946" transform="matrix(0.1856,0.0000,0.0000,0.1743,495.8300,1247.4390)">IgG added (ng)</text>
<text font-size="100" font-weight="normal" stroke-width="1.933" transform="matrix(0.0000,-0.1836,0.1786,0.0000,381.7492,1145.7686)">Bound IgG (ng)</text>
<text font-size="100" font-weight="bold" stroke-width="1.628" transform="matrix(0.2086,0.0000,0.0000,0.2214,448.5438,995.8000)">BALB.N1.B2</text>
<text font-size="100" font-weight="bold" stroke-width="1.321" transform="matrix(0.2661,0.0000,0.0000,0.2638,356.4703,978.1000)">H</text>
<clipPath id="clipH"><rect x="427.5" y="941.7" width="250.29999999999995" height="254.5999999999999"/></clipPath>
<polyline points="431,1196.4 438.2,1194.2 444.8,1191.2 457.2,1188.3 473.3,1191.7 522.4,1178.8 580.1,1170.5 647.3,1155.3" fill="none" stroke="#000" stroke-width="2.8" stroke-linejoin="round" clip-path="url(#clipH)"/>
<circle cx="431" cy="1196.4" r="5.1" fill="#000"/>
<circle cx="438.2" cy="1194.2" r="5.1" fill="#000"/>
<circle cx="444.8" cy="1191.2" r="5.1" fill="#000"/>
<circle cx="457.2" cy="1188.3" r="5.1" fill="#000"/>
<circle cx="473.3" cy="1191.7" r="5.1" fill="#000"/>
<circle cx="522.4" cy="1178.8" r="5.1" fill="#000"/>
<circle cx="580.1" cy="1170.5" r="5.1" fill="#000"/>
<circle cx="647.3" cy="1155.3" r="5.1" fill="#000"/>
<polyline points="429.9,1191.7 432.4,1183.2 431,1175.6 434.6,1168.9 442.6,1155.8 452.4,1128 468.2,1116.1 497.4,1060.8 535.3,1032.4 650.3,988" fill="none" stroke="#000" stroke-width="2.8" stroke-linejoin="round" clip-path="url(#clipH)"/>
<rect x="425.90" y="1187.70" width="8.0" height="8.0" fill="#fff" stroke="#000" stroke-width="2.2"/>
<rect x="428.40" y="1179.20" width="8.0" height="8.0" fill="#fff" stroke="#000" stroke-width="2.2"/>
<rect x="427.00" y="1171.60" width="8.0" height="8.0" fill="#fff" stroke="#000" stroke-width="2.2"/>
<rect x="430.60" y="1164.90" width="8.0" height="8.0" fill="#fff" stroke="#000" stroke-width="2.2"/>
<rect x="438.60" y="1151.80" width="8.0" height="8.0" fill="#fff" stroke="#000" stroke-width="2.2"/>
<rect x="448.40" y="1124.00" width="8.0" height="8.0" fill="#fff" stroke="#000" stroke-width="2.2"/>
<rect x="464.20" y="1112.10" width="8.0" height="8.0" fill="#fff" stroke="#000" stroke-width="2.2"/>
<rect x="493.40" y="1056.80" width="8.0" height="8.0" fill="#fff" stroke="#000" stroke-width="2.2"/>
<rect x="531.30" y="1028.40" width="8.0" height="8.0" fill="#fff" stroke="#000" stroke-width="2.2"/>
<rect x="646.30" y="984.00" width="8.0" height="8.0" fill="#fff" stroke="#000" stroke-width="2.2"/>
</svg>
</body></html>
